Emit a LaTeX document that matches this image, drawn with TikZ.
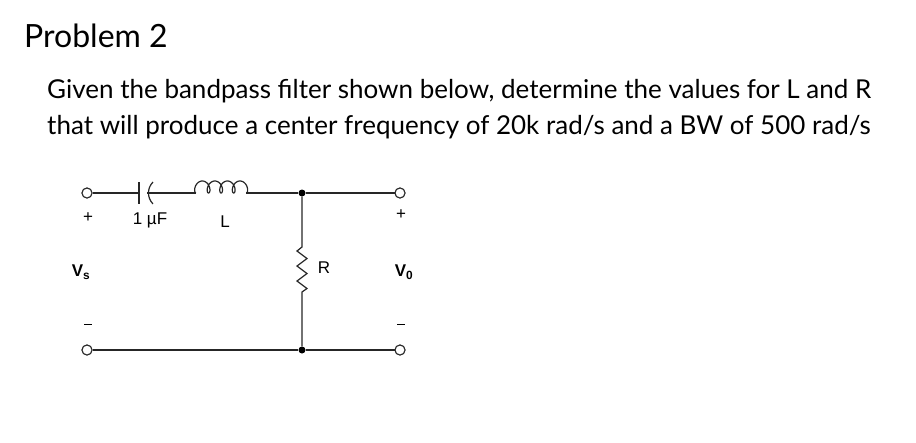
\documentclass[tikz,border=0pt]{standalone}
\usepackage{fontspec}
\setmainfont{Lato}
\newfontfamily\circfont{Liberation Sans}
\begin{document}
\begin{tikzpicture}[x=1pt,y=-1pt,
  wire/.style={line width=1.2pt,draw=black!85},
  term/.style={circle,draw=black!85,line width=1pt,fill=white,inner sep=0pt,minimum size=10pt},
  junc/.style={circle,fill=black,inner sep=0pt,minimum size=7pt},
  lab/.style={font=\circfont\fontsize{17}{19}\selectfont,inner sep=0pt},
  txt/.style={anchor=west,inner sep=0pt,font=\fontsize{26}{30}\selectfont}]
\useasboundingbox (0,0) rectangle (916,442);
\node[anchor=west,inner sep=0pt,font=\fontsize{32}{36}\selectfont] (title) at (24,36) {Problem 2};
\node[txt] (l1) at (47,91) {Given the bandpass filter shown below, determine the values for L and R};
\node[txt] (l2) at (47,127) {that will produce a center frequency of 20k rad/s and a BW of 500 rad/s};
\coordinate (c1) at (139,193);
\coordinate (c2) at (147,193);
\coordinate (i1) at (196,193);
\coordinate (i2) at (246.3,193);
\coordinate (r1) at (302,247);
\coordinate (r2) at (302,292);
\node[junc] (jt) at (302,193) {};
\node[junc] (jb) at (302,350) {};
\node[term] (tl) at (87,193) {};
\node[term] (bl) at (87,350) {};
\node[term] (tr) at (400,193) {};
\node[term] (br) at (400,350) {};
\draw[wire] (tl) -- (c1);
\draw[wire] (c1) ++(0,-11) -- ++(0,22);
\draw[wire] (153,182) arc[start angle=225,end angle=135,radius=15.5];
\draw[wire] (c2) -- (i1);
\draw[wire] plot[domain=0:25.133,samples=240,smooth] ({196+2*\x-4*sin(\x r)},{193-6*(1-cos(\x r))});
\draw[wire] (i2) -- (jt) -- (tr);
\draw[wire] (jt) -- (r1) -- ++(-5,4) -- ++(10,7.5) -- ++(-10,7.5) -- ++(10,7.5) -- ++(-10,7.5) -- ++(10,7.5) -- (r2) -- (jb);
\draw[wire] (bl) -- (jb) -- (br);
\node[term] at (tl) {};\node[term] at (bl) {};\node[term] at (tr) {};\node[term] at (br) {};
\node[lab] (p1) at (88,218) {+};
\node[lab] (cap) at (150,220) {1 µF};
\node[lab] (L) at (225,222) {L};
\node[lab] (vs) at (81,272) {\textbf{V\textsubscript{s}}};
\node[lab] (m1) at (88,326) {\rule[0.3ex]{8pt}{1pt}};
\node[lab] (R) at (324,268) {R};
\node[lab] (p2) at (401,215) {+};
\node[lab] (vo) at (404,272) {\textbf{V\textsubscript{0}}};
\node[lab] (m2) at (401,326) {\rule[0.3ex]{8pt}{1pt}};
\end{tikzpicture}
\end{document}
